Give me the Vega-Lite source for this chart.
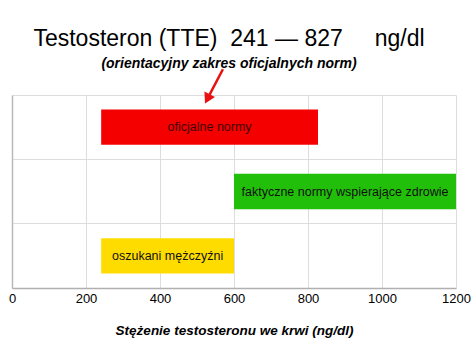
{
  "$schema": "https://vega.github.io/schema/vega-lite/v6.json",
  "width": 444,
  "height": 193,
  "padding": {"left": 8, "top": 28, "right": 6, "bottom": 10},
  "background": "white",
  "config": {
    "font": "Liberation Sans",
    "view": {"stroke": null}
  },
  "title": {
    "text": "Testosteron (TTE)\u00a0\u00a0241 — 827\u00a0\u00a0\u00a0\u00a0 ng/dl",
    "subtitle": "(orientacyjny zakres oficjalnych norm)",
    "fontSize": 23,
    "fontWeight": "normal",
    "color": "#000000",
    "subtitleFontSize": 14,
    "subtitleFontStyle": "italic",
    "subtitleFontWeight": "bold",
    "subtitleColor": "#000000",
    "subtitlePadding": 6,
    "offset": -3,
    "anchor": "middle",
    "dx": -5
  },
  "datasets": {
    "bars": [
      {"label": "oficjalne normy", "start": 241, "end": 827},
      {"label": "faktyczne normy wspierające zdrowie", "start": 600, "end": 1200},
      {"label": "oszukani mężczyźni", "start": 241, "end": 600}
    ],
    "arrow": [
      {"x": 570, "y": 3.40, "xe": 528, "ye": 2.94}
    ]
  },
  "layer": [
    {
      "layer": [
        {
          "data": {"name": "bars"},
          "mark": {"type": "bar", "height": {"band": 0.55}},
          "encoding": {
            "y": {
              "field": "label", "type": "nominal", "sort": null,
              "scale": {"paddingInner": 0, "paddingOuter": 0},
              "axis": {"labels": false, "ticks": false, "title": null, "grid": true, "bandPosition": 0, "gridColor": "#dddddd", "domainColor": "#b8b8b8", "domainWidth": 1.5, "minExtent": 0, "maxExtent": 0, "offset": 0}
            },
            "x": {
              "field": "start", "type": "quantitative",
              "scale": {"domain": [0, 1200], "nice": false},
              "axis": {
                "values": [0, 200, 400, 600, 800, 1000, 1200],
                "format": "d",
                "labelFlush": false, "ticks": false, "labelPadding": 4,
                "labelFontSize": 13, "labelColor": "#000000",
                "gridColor": "#dddddd", "domainColor": "#b0b0b0", "domainWidth": 1.5,
                "title": "Stężenie testosteronu we krwi (ng/dl)",
                "titleFontSize": 13.5, "titleFontStyle": "italic", "titleFontWeight": "bold",
                "titleColor": "#000000", "titlePadding": 18
              }
            },
            "x2": {"field": "end"},
            "color": {
              "field": "label", "type": "nominal",
              "scale": {
                "domain": ["oficjalne normy", "faktyczne normy wspierające zdrowie", "oszukani mężczyźni"],
                "range": ["#f50000", "#22bf0a", "#ffdc00"]
              },
              "legend": null
            }
          }
        },
        {
          "data": {"name": "bars"},
          "transform": [{"fold": ["start", "end"], "as": ["k", "v"]}],
          "mark": {"type": "text", "fontSize": 12.5, "align": "center", "baseline": "middle"},
          "encoding": {
            "y": {"field": "label", "type": "nominal", "sort": null},
            "x": {"aggregate": "mean", "field": "v", "type": "quantitative"},
            "text": {"field": "label", "type": "nominal"},
            "color": {
              "condition": {"test": "datum.label === 'oficjalne normy'", "value": "#400000"},
              "value": "#111111"
            }
          }
        }
      ]
    },
    {
      "layer": [
        {
          "data": {"name": "arrow"},
          "mark": {"type": "rule", "color": "#e81010", "strokeWidth": 2.5},
          "encoding": {
            "x": {"field": "x", "type": "quantitative"},
            "x2": {"field": "xe"},
            "y": {"field": "y", "type": "quantitative", "scale": {"domain": [0, 3], "nice": false}, "axis": null},
            "y2": {"field": "ye"}
          }
        },
        {
          "data": {"name": "arrow"},
          "mark": {"type": "point", "shape": "triangle-down", "filled": true, "color": "#e81010", "size": 140, "angle": 27, "opacity": 1},
          "encoding": {
            "x": {"field": "xe", "type": "quantitative"},
            "y": {"field": "ye", "type": "quantitative", "scale": {"domain": [0, 3], "nice": false}, "axis": null}
          }
        }
      ]
    }
  ],
  "resolve": {"scale": {"y": "independent", "color": "independent"}, "axis": {"y": "independent"}}
}
